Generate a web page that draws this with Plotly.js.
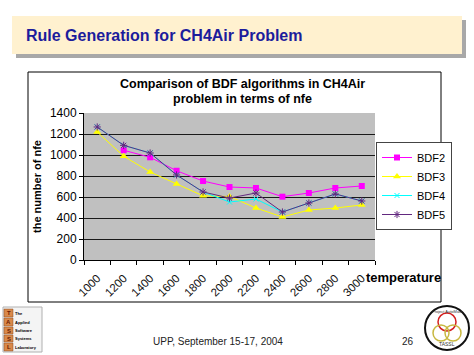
<!DOCTYPE html>
<html>
<head>
<meta charset="utf-8">
<script src="https://cdn.plot.ly/plotly-3.0.1.min.js"></script>
<style>
html,body{margin:0;padding:0;background:#ffffff;}
#chart{width:474px;height:355px;}
</style>
</head>
<body>
<div id="chart"></div>
<script>
// ---- data ----
var temperatures = ['1000','1200','1400','1600','1800','2000','2200','2400','2600','2800','3000'];
var bdf2 = [null, 1045, 978, 850, 752, 695, 686, 603, 638, 686, 705];
var bdf3 = [1219, 988, 838, 724, 611, 605, 495, 410, 476, 495, 524];
var bdf4 = [1267, 1092, 1019, 810, 648, 552, 581, 457, 543, 629, 562];
var bdf5 = [1267, 1092, 1019, 810, 648, 590, 638, 457, 543, 629, 562];
var seriesNames = ['BDF2', 'BDF3', 'BDF4', 'BDF5'];

// ---- layout helpers (pixel -> paper) ----
var L = 84, R = 375, T = 113, B = 260;
function px(x){ return (x - L) / (R - L); }
function py(y){ return (B - y) / (B - T); }
function rect(x0,y0,x1,y1,fill,line,lw){
  return {type:'rect', xref:'paper', yref:'paper', x0:px(x0), x1:px(x1), y0:py(y1), y1:py(y0),
          fillcolor:fill, line:{color:line||fill, width:(lw===undefined?0:lw)}, layer:'below'};
}
function circ(cx,cy,r,fill,line,lw){
  return {type:'circle', xref:'paper', yref:'paper', x0:px(cx-r), x1:px(cx+r), y0:py(cy+r), y1:py(cy-r),
          fillcolor:fill, line:{color:line, width:lw}, layer:'above'};
}
function txt(x,y,s,size,color,bold,anchor){
  return {xref:'paper', yref:'paper', x:px(x), y:py(y), text: bold ? '<b>'+s+'</b>' : s,
          showarrow:false, xanchor:anchor||'left', yanchor:'middle', borderpad:0,
          font:{family:'Liberation Sans, Arial, sans-serif', size:size, color:color}};
}

var traces = [
  {x:temperatures, y:bdf2, name:seriesNames[0], type:'scatter', mode:'lines+markers',
   line:{color:'#ff00ff', width:1}, marker:{symbol:'square', size:6, color:'#ff00ff'}},
  {x:temperatures, y:bdf3, name:seriesNames[1], type:'scatter', mode:'lines+markers',
   line:{color:'#ffff00', width:1}, marker:{symbol:'triangle-up', size:7, color:'#ffff00'}},
  {x:temperatures, y:bdf4, name:seriesNames[2], type:'scatter', mode:'lines+markers',
   line:{color:'#00ffff', width:1}, marker:{symbol:'x-thin-open', size:5, color:'#00ffff', line:{color:'#00ffff', width:1}}},
  {x:temperatures, y:bdf5, name:seriesNames[3], type:'scatter', mode:'lines+markers',
   line:{color:'#62287f', width:1}, marker:{symbol:'asterisk-open', size:6, color:'#62287f', line:{color:'#62287f', width:1}}}
];

var shapes = [
  // title banner with shadow
  rect(16, 20, 466, 58, '#a8a8a8'),
  rect(12, 16, 462, 54, '#fff1cf'),
  // chart frame
  rect(28, 72, 441, 302, '#ffffff', '#000000', 1),
  // plot area background
  rect(84, 113, 375, 260, '#c0c0c0'),
  // left logo
  rect(3, 307, 42, 352, '#f4f4f4', '#b0b0b0', 1),
  rect(4, 309, 13, 317, '#d9894a', '#8a4a20', 0.5),
  rect(4, 318, 13, 326, '#d9894a', '#8a4a20', 0.5),
  rect(4, 327, 13, 334, '#d9894a', '#8a4a20', 0.5),
  rect(4, 335, 13, 342, '#d9894a', '#8a4a20', 0.5),
  rect(4, 343, 13, 351, '#d9894a', '#8a4a20', 0.5),
  // right logo
  circ(447, 328, 22, '#ffffff', '#111111', 2),
  circ(447, 322, 9, 'rgba(0,0,0,0)', '#d42020', 1.5),
  circ(441, 333, 8, 'rgba(0,0,0,0)', '#c8b840', 1.5),
  circ(453, 333, 8, 'rgba(0,0,0,0)', '#c8b840', 1.5)
];

var annotations = [
  txt(25, 35, 'Rule Generation for CH4Air Problem', 16, '#1c1c9c', true),
  txt(243, 84, 'Comparison of BDF algorithms in CH4Air', 12.5, '#000000', true, 'center'),
  txt(243, 99, 'problem in terms of nfe', 12.5, '#000000', true, 'center'),
  txt(403, 277, 'temperature', 13, '#000000', true, 'center'),
  txt(218, 341, 'UPP, September 15-17, 2004', 10, '#222222', false, 'center'),
  txt(408, 341, '26', 10, '#222222', false, 'center'),
  // logo text
  txt(8.5, 313, 'T', 6, '#6a1a00', true, 'center'),
  txt(8.5, 322, 'A', 6, '#6a1a00', true, 'center'),
  txt(8.5, 330.5, 'S', 6, '#6a1a00', true, 'center'),
  txt(8.5, 338.5, 'S', 6, '#6a1a00', true, 'center'),
  txt(8.5, 347, 'L', 6, '#6a1a00', true, 'center'),
  txt(14, 313, 'The', 4, '#000000', true),
  txt(14, 322, 'Applied', 4, '#000000', true),
  txt(14, 330.5, 'Software', 4, '#000000', true),
  txt(14, 338.5, 'Systems', 4, '#000000', true),
  txt(14, 347, 'Laboratory', 4, '#000000', true),
  txt(447, 344, 'TASSL', 5, '#333333', false, 'center'),
  txt(447, 311, 'Project AutoMate', 4, '#333333', false, 'center')
];

var layout = {
  width:474, height:355,
  margin:{l:L, r:474-R, t:T, b:355-B, pad:0},
  paper_bgcolor:'rgba(0,0,0,0)',
  plot_bgcolor:'rgba(0,0,0,0)',
  font:{family:'Liberation Sans, Arial, sans-serif', size:12, color:'#000000'},
  showlegend:true,
  legend:{x:px(376), y:py(142), xanchor:'left', yanchor:'top',
          bgcolor:'#ffffff', bordercolor:'#444444', borderwidth:1,
          font:{family:'Liberation Sans, Arial, sans-serif', size:11, color:'#000000'},
          tracegroupgap:0, itemwidth:30},
  xaxis:{type:'category', range:[-0.5, 10.5], tickson:'boundaries', ticks:'outside', ticklen:4,
         tickcolor:'#000000', showline:true, linecolor:'#000000', linewidth:1,
         showgrid:false, zeroline:false, tickangle:-45, ticklabelstandoff:6,
         tickfont:{family:'Liberation Sans, Arial, sans-serif', size:11.5, color:'#111111'}},
  yaxis:{range:[0,1400], dtick:200, ticks:'outside', ticklen:4, tickcolor:'#000000',
         showline:true, linecolor:'#000000', linewidth:1,
         showgrid:true, gridcolor:'#1a1a1a', gridwidth:1, zeroline:false,
         tickfont:{family:'Liberation Sans, Arial, sans-serif', size:12, color:'#000000'},
         title:{text:'<b>the number of nfe</b>', standoff:6,
                font:{family:'Liberation Sans, Arial, sans-serif', size:11, color:'#000000'}}},
  shapes:shapes,
  annotations:annotations
};

Plotly.newPlot('chart', traces, layout, {displayModeBar:false, staticPlot:true});
</script>
</body>
</html>
